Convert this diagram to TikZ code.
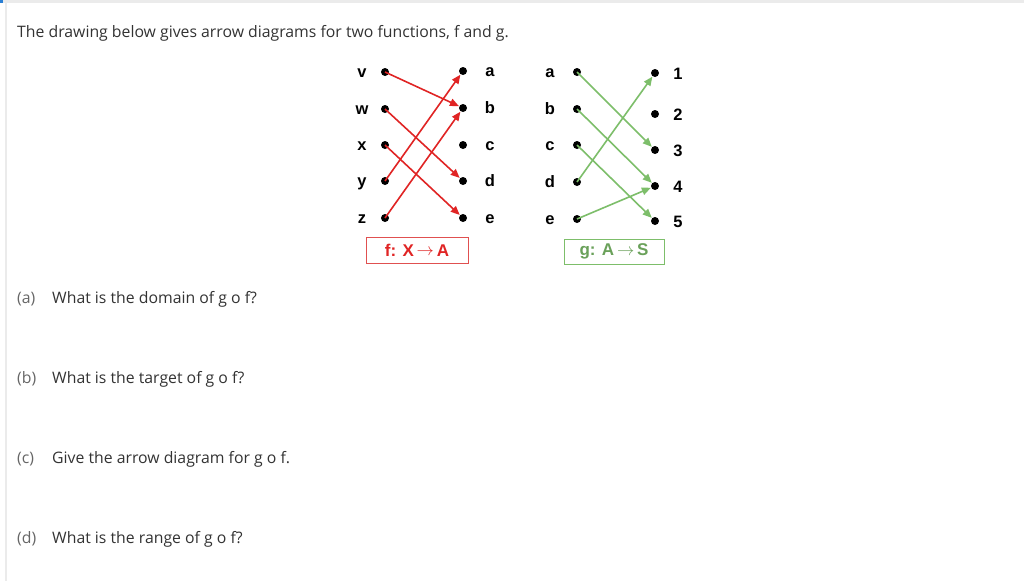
\documentclass[tikz,border=0pt]{standalone}
\usepackage{fontspec}
\setmainfont{Open Sans}
\newfontfamily\labfont{Liberation Sans}
\usetikzlibrary{arrows.meta}
\definecolor{txt}{HTML}{333333}
\definecolor{lbl}{HTML}{666666}
\definecolor{fred}{HTML}{E02424}
\definecolor{fredbox}{HTML}{E05050}
\definecolor{ggreen}{HTML}{7DBE6A}
\definecolor{edge}{HTML}{EBEBEB}
\definecolor{tabblue}{HTML}{2A7FD4}
\newcommand{\thinarrow}{\,\raisebox{0.3pt}{$\mathbf{\rightarrow}$}\,}
\tikzset{
  dot/.style={circle,fill=black,inner sep=0pt,minimum size=8pt},
  lab/.style={font=\labfont\bfseries\fontsize{16.5}{16.5}\selectfont,text=black,anchor=base},
  farrow/.style={draw=fred,line width=1.6pt,-{Triangle[length=9pt,width=7.5pt]},shorten >=0.3pt},
  garrow/.style={draw=ggreen,line width=1.6pt,-{Triangle[length=9pt,width=7.5pt]},shorten >=0.3pt},
  qtext/.style={font=\fontsize{15.8}{16}\selectfont,text=txt,anchor=base west,inner sep=0pt},
  qlab/.style={font=\fontsize{15.8}{16}\selectfont,text=lbl,anchor=base west,inner sep=0pt},
  fbox/.style={draw=fredbox,line width=1pt,minimum width=102pt,minimum height=26pt,inner sep=0pt,
    font=\labfont\bfseries\fontsize{17}{17}\selectfont,text=fred},
  gbox/.style={draw=ggreen,line width=1pt,minimum width=100pt,minimum height=25pt,inner sep=0pt,
    font=\labfont\bfseries\fontsize{17}{17}\selectfont,text=ggreen!85!black},
}
\begin{document}
\begin{tikzpicture}[x=1pt,y=-1pt]
\useasboundingbox (0,0) rectangle (1024,581);
\fill[white] (0,0) rectangle (1024,581);
\fill[edge] (0,0) rectangle (1024,3);
\fill[edge] (5,3) rectangle (6.5,581);
\fill[tabblue] (0,0) rectangle (3,3);

\node[qtext] (intro) at (17,37) {The drawing below gives arrow diagrams for two functions, f and g.};

% f diagram
\foreach \n/\y in {v/72,w/109,x/145,y/181,z/218}{
  \node[dot] (f\n) at (385,\y) {};
  \node[lab] (fl\n) at (362,\y+5) {\n};
}
\foreach \n/\y in {a/71,b/108,c/145,d/181,e/218}{
  \node[dot] (fa\n) at (463,\y) {};
  \node[lab] (fal\n) at (490,\y+5) {\n};
}
\draw[farrow] (fv.center) -- (fab);
\draw[farrow] (fw.center) -- (fad);
\draw[farrow] (fx.center) -- (fae);
\draw[farrow] (fy.center) -- (faa);
\draw[farrow] (fz.center) -- (fab);
\node[fbox] (fb) at (417,250) {f: X\thinarrow A};

% g diagram
\foreach \n/\y in {a/72,b/109,c/145,d/182,e/219}{
  \node[dot] (g\n) at (577,\y) {};
  \node[lab] (gl\n) at (550,\y+5) {\n};
}
\foreach \n/\y in {1/73,2/114,3/150,4/186,5/221}{
  \node[dot] (gs\n) at (655,\y) {};
  \node[lab] (gsl\n) at (678,\y+6) {\n};
}
\draw[garrow] (ga.center) -- (gs3);
\draw[garrow] (gb.center) -- (gs4);
\draw[garrow] (gc.center) -- (gs5);
\draw[garrow] (gd.center) -- (gs1);
\draw[garrow] (ge.center) -- (gs4);
\node[gbox] (gbx) at (614,251.5) {g: A\thinarrow S};

% questions
\node[qlab] (qa) at (17,303) {(a)};
\node[qtext] (ta) at (52,303) {What is the domain of g o f?};
\node[qlab] (qb) at (17,383) {(b)};
\node[qtext] (tb) at (52,383) {What is the target of g o f?};
\node[qlab] (qc) at (17,463) {(c)};
\node[qtext] (tc) at (52,463) {Give the arrow diagram for g o f.};
\node[qlab] (qd) at (17,543) {(d)};
\node[qtext] (td) at (52,543) {What is the range of g o f?};
\end{tikzpicture}
\end{document}
